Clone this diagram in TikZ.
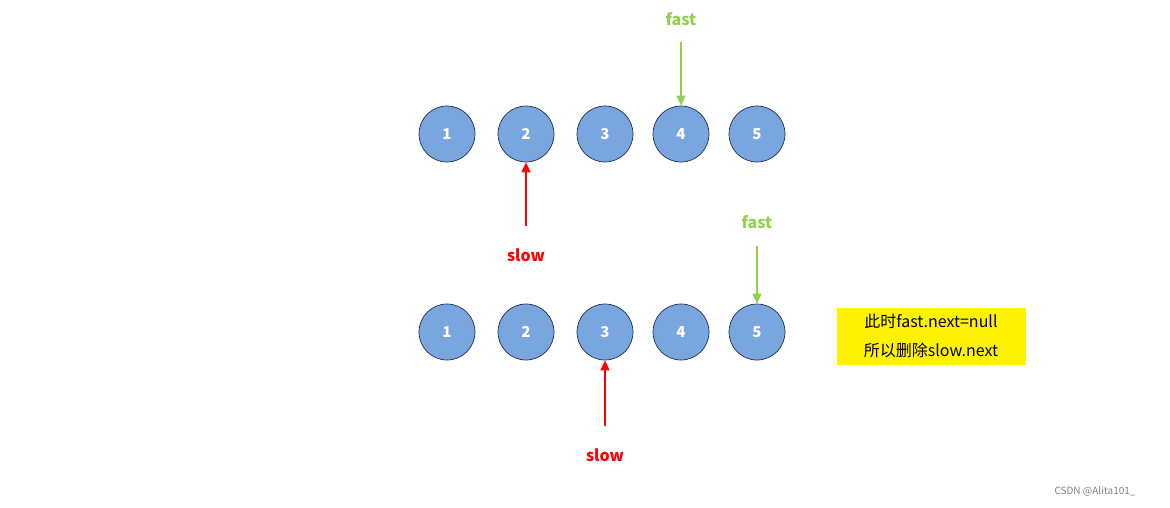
\documentclass[tikz,border=0pt]{standalone}
\usepackage{fontspec}
\setmainfont{Noto Sans CJK SC}
\usetikzlibrary{arrows.meta}
\definecolor{nodefill}{HTML}{7AA6E0}
\definecolor{nodeline}{HTML}{1F2F4F}
\definecolor{fastc}{HTML}{92D050}
\definecolor{slowc}{HTML}{FF0000}
\begin{document}
\begin{tikzpicture}[x=1pt,y=-1pt,
  nd/.style={circle,draw=nodeline,fill=nodefill,line width=0.7pt,minimum size=56pt,inner sep=0pt,text=white,font=\fontsize{15}{18}\selectfont\bfseries},
  lbl/.style={font=\fontsize{16}{20}\selectfont\bfseries},
  arr/.style={-{Triangle[length=10pt,width=9pt]},line width=1.6pt}]
\useasboundingbox (0,0) rectangle (1170,507);
\foreach \i/\x in {1/447,2/526,3/605,4/681,5/757}{
  \node[nd] (a\i) at (\x,134) {\i};
  \node[nd] (b\i) at (\x,332) {\i};
}
\node[lbl,text=fastc] (f1) at (681,19) {fast};
\coordinate (f1s) at (681,42);
\draw[arr,fastc] (f1s) -- (a4);
\node[lbl,text=slowc] (s1) at (526,255) {slow};
\coordinate (s1s) at (526,226);
\draw[arr,slowc] (s1s) -- (a2);
\node[lbl,text=fastc] (f2) at (757,222) {fast};
\coordinate (f2s) at (757,246);
\draw[arr,fastc] (f2s) -- (b5);
\node[lbl,text=slowc] (s2) at (605,455) {slow};
\coordinate (s2s) at (605,426);
\draw[arr,slowc] (s2s) -- (b3);
\node[fill=yellow,inner sep=1pt,align=center,font=\fontsize{16}{29}\selectfont,minimum width=189pt,minimum height=57pt] (t) at (931,336) {此时fast.next=null\\所以删除slow.next};
\node[text=gray,font=\fontsize{10}{12}\selectfont] (w) at (1095,491) {CSDN @Alita101\_};
\end{tikzpicture}
\end{document}
